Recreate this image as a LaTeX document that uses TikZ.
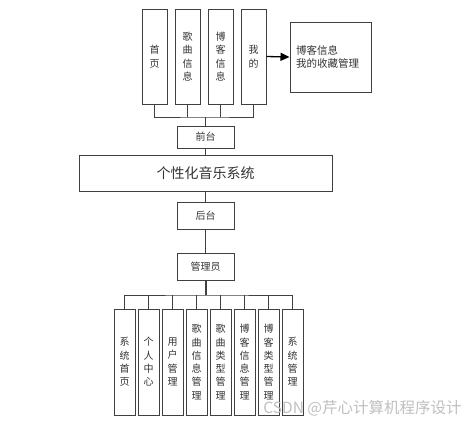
\documentclass[tikz,border=0pt]{standalone}
\usepackage{fontspec}
\setmainfont{Noto Sans CJK SC}
\usetikzlibrary{arrows.meta}

\begin{document}
\begin{tikzpicture}[x=1pt,y=-1pt,
    box/.style={draw=black!75,line width=1pt,inner sep=0pt,text=black!80,align=center,font=\fontsize{10}{13.5}\selectfont},
    topcol/.style={box,minimum width=25,minimum height=95},
    botcol/.style={box,minimum width=21,minimum height=106,font=\fontsize{10}{13.3}\selectfont},
    small/.style={box,minimum width=57,minimum height=27},
    wire/.style={draw=black!75,line width=1pt}]

    \useasboundingbox (0,0) rectangle (474,424);

    % these are the front pages
    \node[topcol] (sy) at (154.5,56.5) {首\\页};
    \node[topcol] (gq) at (187.5,56.5) {歌\\曲\\信\\息};
    \node[topcol] (bk) at (220.5,56.5) {博\\客\\信\\息};
    \node[topcol] (wd) at (253.5,56.5) {我\\的};
    \node[box,minimum width=81,minimum height=70,text width=69,align=left,font=\fontsize{10.5}{12.5}\selectfont] (sc) at (330.5,57) {博客信息\\我的收藏管理};

    % these are the middle boxes
    \node[small,minimum height=22] (qt) at (205.5,137) {前台};
    \node[box,minimum width=253,minimum height=36,font=\fontsize{14}{16}\selectfont] (xt) at (205.5,173) {个性化音乐系统};
    \node[small] (ht) at (205.5,215.5) {后台};
    \node[small] (gly) at (205.5,266.5) {管理员};

    % these are the admin pages
    \node[botcol] (xtsy) at (124.5,362) {系\\统\\首\\页};
    \node[botcol] (grzx) at (148.5,362) {个\\人\\中\\心};
    \node[botcol] (yhgl) at (172.5,362) {用\\户\\管\\理};
    \node[botcol] (gqxx) at (196.5,362) {歌\\曲\\信\\息\\管\\理};
    \node[botcol] (gqlx) at (220.5,362) {歌\\曲\\类\\型\\管\\理};
    \node[botcol] (bkxx) at (244.5,362) {博\\客\\信\\息\\管\\理};
    \node[botcol] (bklx) at (268.5,362) {博\\客\\类\\型\\管\\理};
    \node[botcol] (xtgl) at (292.5,362) {系\\统\\管\\理};

    \coordinate (topbus) at (205.5,117);
    \coordinate (botbus) at (205.5,295);

    % these are the connectors
    \draw[wire] (sy.south) |- (topbus) -| (wd.south);
    \draw[wire] (gq.south) -- (gq.south |- topbus);
    \draw[wire] (bk.south) -- (bk.south |- topbus);
    \draw[wire] (topbus) -- (qt.north);
    \draw[wire,draw=black,line width=1.3pt,-{Triangle[length=9pt,width=8pt]}] (wd.east) -- (sc.west);

    \draw[wire] (qt.south) -- (xt.north);
    \draw[wire] (xt.south) -- (ht.north);
    \draw[wire] (ht.south) -- (gly.north);
    \draw[wire,line width=2pt] (gly.south) -- (botbus);

    \draw[wire] (xtsy.north) |- (botbus) -| (xtgl.north);
    \draw[wire] (grzx.north) -- (grzx.north |- botbus);
    \draw[wire] (yhgl.north) -- (yhgl.north |- botbus);
    \draw[wire] (gqxx.north) -- (gqxx.north |- botbus);
    \draw[wire] (gqlx.north) -- (gqlx.north |- botbus);
    \draw[wire] (bkxx.north) -- (bkxx.north |- botbus);
    \draw[wire] (bklx.north) -- (bklx.north |- botbus);

    \node[text=black!25,font=\fontsize{15.5}{18}\selectfont,inner sep=0pt] (csdn) at (362.5,408) {CSDN @芹心计算机程序设计};

\end{tikzpicture}
\end{document}
